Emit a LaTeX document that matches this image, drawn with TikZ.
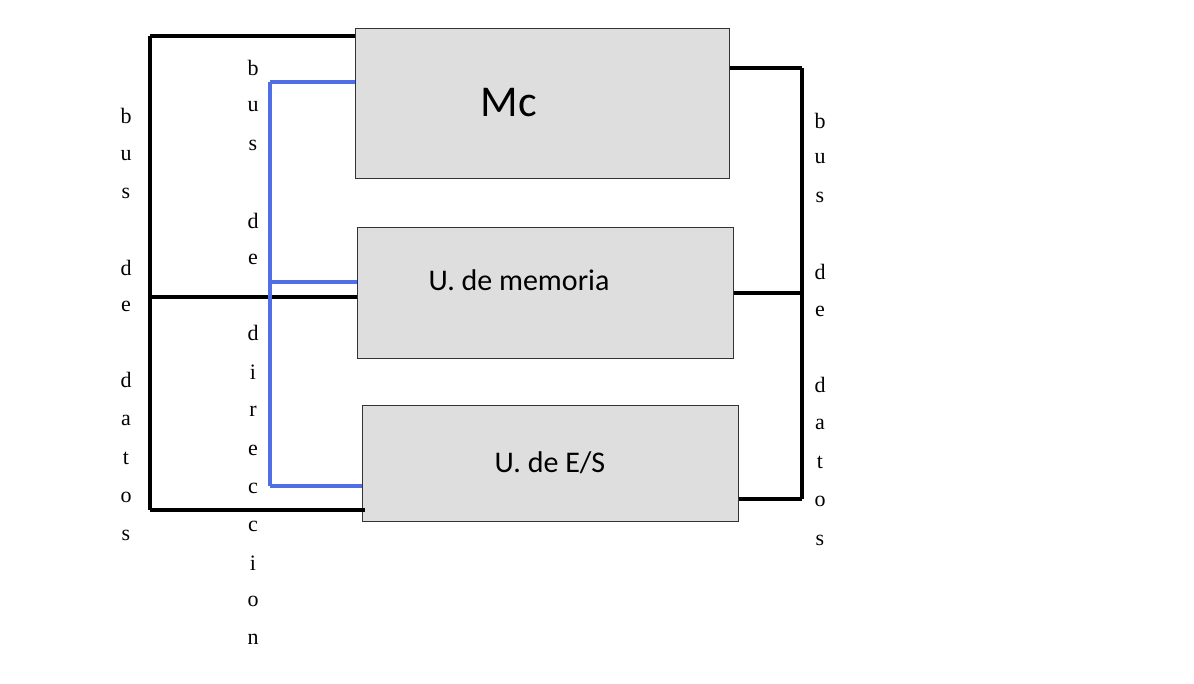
\documentclass[tikz,border=0pt]{standalone}
\usepackage{fontspec}
\setmainfont{Liberation Serif}
\newfontfamily\boxfont{Carlito}
\begin{document}
\begin{tikzpicture}[x=1pt,y=-1pt,
  blk/.style={draw=black!80,fill=black!13,line width=0.8pt},
  bus/.style={line width=3.5pt,black},
  abus/.style={line width=3.5pt,color={rgb,255:red,80;green,110;blue,230}},
  let/.style={font=\fontsize{22}{24}\selectfont,inner sep=0pt}]
\useasboundingbox (0,0) rectangle (1194,684);
\fill[white] (0,0) rectangle (1194,684);
\node[blk,minimum width=374pt,minimum height=150pt,anchor=north west] (mc) at (355,28) {};
\node[blk,minimum width=376pt,minimum height=131pt,anchor=north west] (mem) at (357,227) {};
\node[blk,minimum width=376pt,minimum height=116pt,anchor=north west] (es) at (362,405) {};
\node[font=\boxfont\fontsize{44}{48}\selectfont] (mct) at (509,103) {Mc};
\node[font=\boxfont\fontsize{30}{32}\selectfont] (memt) at (519,280) {U. de memoria};
\node[font=\boxfont\fontsize{30}{32}\selectfont] (est) at (550,463) {U. de E/S};
% left data bus
\coordinate (l1) at (150,36); \coordinate (l2) at (150,297); \coordinate (l3) at (150,510);
\draw[bus] (l1) -- (l3);
\draw[bus] (l1) -- (mc.north west|-l1);
\draw[bus] (l2) -- (mem.west|-l2);
\draw[bus] (l3) -- (365,510);
% address bus
\coordinate (a1) at (270,82); \coordinate (a2) at (270,282); \coordinate (a3) at (270,486);
\draw[abus] (a1) -- (a3);
\draw[abus] (a1) -- (mc.west|-a1);
\draw[abus] (a2) -- (mem.west|-a2);
\draw[abus] (a3) -- (es.west|-a3);
% right data bus
\coordinate (r1) at (802,68); \coordinate (r2) at (802,293); \coordinate (r3) at (802,499);
\draw[bus] (r1) -- (r3);
\draw[bus] (r1) -- (mc.east|-r1);
\draw[bus] (r2) -- (mem.east|-r2);
\draw[bus] (r3) -- (es.east|-r3);
% labels
\foreach \c/\y [count=\i] in {b/116,u/156,s/193,d/268,e/306,d/380,a/420,t/458,o/497,s/535}
  \node[let] (L\i) at (126,\y) {\c};
\foreach \c/\y [count=\i] in {b/121,u/159,s/197,d/272,e/311,d/385,a/424,t/462,o/501,s/540}
  \node[let] (R\i) at (820,\y) {\c};
\foreach \c/\y [count=\i] in {b/68,u/107,s/145,d/221,e/259,d/333,i/372,r/411,e/450,c/488,c/526,i/563,o/601,n/639}
  \node[let] (M\i) at (253,\y) {\c};
\end{tikzpicture}
\end{document}
